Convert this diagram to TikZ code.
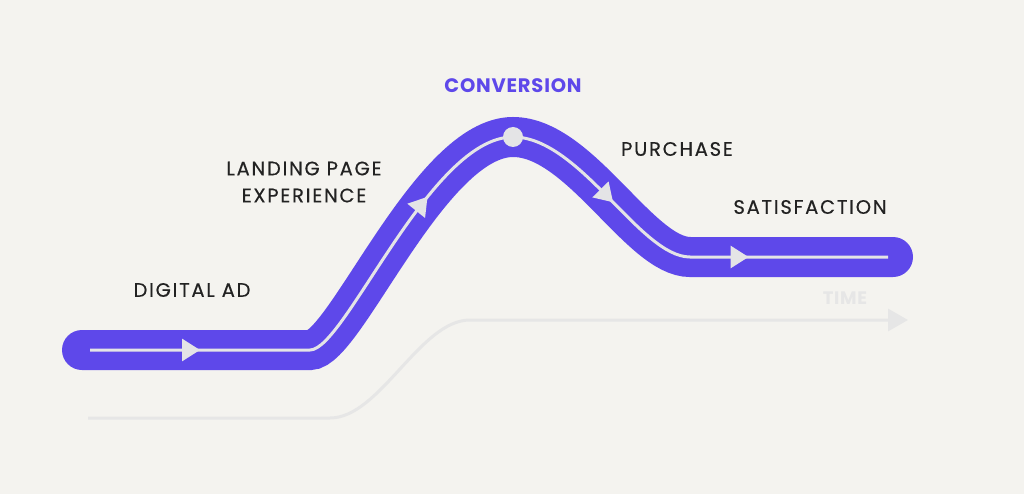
\documentclass[tikz,border=0pt]{standalone}
\usepackage{fontspec}
\setmainfont{Poppins}[LetterSpace=9, FakeBold=0.4]
\newfontfamily\heavyfont{Poppins}[LetterSpace=4]
\usetikzlibrary{arrows.meta,decorations.markings}
\definecolor{bgpaper}{HTML}{F4F3EF}
\definecolor{funnel}{HTML}{5E48EA}
\definecolor{track}{HTML}{E4E4E6}
\definecolor{ink}{HTML}{222222}
\definecolor{faint}{HTML}{E6E6E6}

\tikzset{
  stage/.style={text=ink, font=\fontsize{19.5}{27}\selectfont, align=center},
  flowtip/.tip={Triangle[length=18pt,width=22pt]},
}

\begin{document}
\begin{tikzpicture}[x=1pt,y=-1pt]
  \fill[bgpaper] (0,0) rectangle (1024,494);
  % time axis
  \draw[faint, line width=3pt, -{Triangle[length=20pt,width=22pt]}]
    (88,418) -- (330,418) .. controls (380,418) and (420,320) .. (470,320) -- (908,320);
  \node[text=faint, font=\heavyfont\fontsize{18}{22}\selectfont\bfseries] (time) at (845,298) {TIME};
  % journey band
  \draw[funnel, line width=40pt, line cap=round]
    (82,350) -- (310,350) .. controls (345,350) and (430,137) .. (513,137)
    .. controls (580,137) and (640,257) .. (690,257) -- (893,257);
  \draw[track, line width=3pt, postaction={decorate},
    decoration={markings,
      mark=at position 110pt with {\arrow{flowtip}},
      mark=at position 415pt with {\arrow{flowtip}},
      mark=at position 645pt with {\arrow{flowtip}},
      mark=at position 800pt with {\arrow{flowtip}}}]
    (90,350) -- (310,350) .. controls (345,350) and (430,137) .. (513,137)
    .. controls (580,137) and (640,257) .. (690,257) -- (888,257);
  \fill[track] (513,137) circle[radius=10pt];
  % labels
  \node[stage] (ad) at (192,290) {DIGITAL AD};
  \node[stage] (landing) at (304,182) {LANDING PAGE\\EXPERIENCE};
  \node[text=funnel, font=\heavyfont\fontsize{19.5}{24}\selectfont\bfseries] (conv) at (513,86) {CONVERSION};
  \node[stage] (buy) at (677,149) {PURCHASE};
  \node[stage] (happy) at (810,207) {SATISFACTION};
\end{tikzpicture}
\end{document}
